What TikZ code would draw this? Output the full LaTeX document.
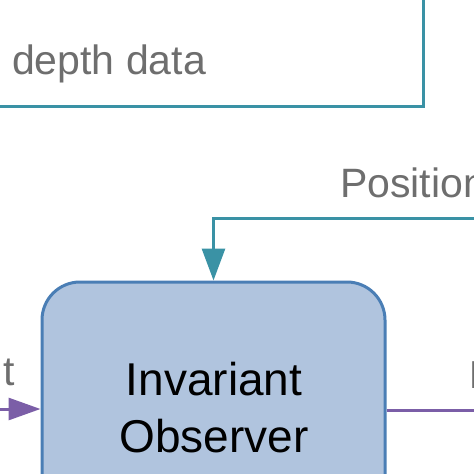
\documentclass[tikz,border=0pt]{standalone}
\usepackage{fontspec}
\setmainfont{Liberation Sans}
\usetikzlibrary{arrows.meta}
\definecolor{tealc}{HTML}{3A92A5}
\definecolor{grayt}{HTML}{6E6E6E}
\definecolor{boxfill}{HTML}{B0C4DE}
\definecolor{boxline}{HTML}{4A7EB5}
\definecolor{purplec}{HTML}{7B5EA7}
\begin{document}
\begin{tikzpicture}[x=1pt,y=-1pt,
  tealline/.style={draw=tealc,line width=3pt},
  tealarrow/.style={tealline,-{Triangle[width=23pt,length=32pt]}},
  purparrow/.style={draw=purplec,line width=3pt,-{Triangle[width=22pt,length=32pt]}},
  purpline/.style={draw=purplec,line width=3pt},
  graylabel/.style={text=grayt,font=\fontsize{41}{49}\selectfont,inner sep=0pt},
  obsbox/.style={draw=boxline,fill=boxfill,line width=3pt,rounded corners=38pt,inner sep=0pt},
  plainbox/.style={draw=tealc,line width=3pt,inner sep=0pt}
]
\useasboundingbox (0,0) rectangle (474,474);
\clip (0,0) rectangle (474,474);
% top box
\node[plainbox,minimum width=463pt,minimum height=146pt] (dbox) at (191.5,33) {};
\node[graylabel,anchor=base west] (dtext) at (12,74) {depth data};
% observer box
\node[obsbox,minimum width=343pt,minimum height=340pt] (obs) at (213.5,452) {};
\node[inner sep=0pt,align=center,font=\fontsize{46}{57}\selectfont,anchor=base] (otext) at (214,452) {Invariant\\Observer};
% position feedback
\node[graylabel,anchor=base west] (ptext) at (340,197) {Position};
\coordinate (pin) at (480,218);
\draw[tealarrow] (pin) -| (obs.north);
% left input
\node[graylabel,anchor=base east] (ttext) at (15,385) {t};
\coordinate (lin) at (-10,409);
\draw[purparrow] (lin) -- (lin -| obs.west);
% right output
\coordinate (rout) at (480,410);
\draw[purpline] (rout -| obs.east) -- (rout);
\node[graylabel,anchor=base west,font=\fontsize{39}{47}\selectfont] (rtext) at (469,388) {P};
\end{tikzpicture}
\end{document}
